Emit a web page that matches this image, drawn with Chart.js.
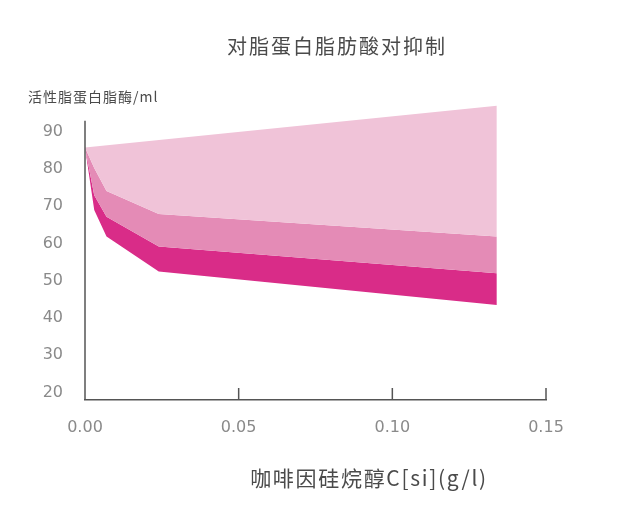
<!DOCTYPE html>
<html>
<head>
<meta charset="utf-8">
<script src="https://cdn.jsdelivr.net/npm/chart.js@4.4.1/dist/chart.umd.min.js"></script>
<style>
  html, body { margin: 0; padding: 0; background: #fff; }
  #wrap { width: 630px; height: 508px; }
</style>
</head>
<body>
<div id="wrap"><canvas id="chart" width="630" height="508"></canvas></div>
<script>
// 数据
const chartTitle = "对脂蛋白脂肪酸对抑制";
const yTitle = "活性脂蛋白脂酶/ml";
const xTitle = "咖啡因硅烷醇C[si](g/l)";

const xTicks = [0, 0.05, 0.10, 0.15];
const yTicks = [20, 30, 40, 50, 60, 70, 80, 90];

const topX = [0, 0.134];
const topY = [85.8, 97.0];

const concX = [0, 0.003, 0.007, 0.024, 0.134];
const lightBottom = [85.8, 80.3, 74.1, 67.9, 61.9];
const midBottom = [85.8, 73.0, 67.2, 59.2, 52.0];
const darkBottom = [85.8, 69.0, 61.9, 52.5, 43.5];

const toPoints = (xs, ys) => xs.map((x, i) => ({ x: x, y: ys[i] }));

const axisColor = "#555";
const tickColor = "#8a8a8a";
const textColor = "#4a4a4a";
const cjk = "'Noto Sans CJK SC', sans-serif";

// 轴线、刻度和文字
const decor = {
    id: "decor",
    afterDraw(chart) {
        const ctx = chart.ctx;
        const area = chart.chartArea;
        const xs = chart.scales.x;
        const ys = chart.scales.y;
        ctx.save();
        ctx.strokeStyle = axisColor;
        ctx.lineWidth = 1.5;
        // y轴线
        ctx.beginPath();
        ctx.moveTo(area.left, ys.getPixelForValue(93));
        ctx.lineTo(area.left, area.bottom);
        ctx.stroke();
        // x轴刻度（向上）
        xTicks.slice(1).forEach(v => {
            const px = xs.getPixelForValue(v);
            ctx.beginPath();
            ctx.moveTo(px, area.bottom);
            ctx.lineTo(px, area.bottom - 12);
            ctx.stroke();
        });
        ctx.fillStyle = textColor;
        ctx.textBaseline = "middle";
        ctx.textAlign = "center";
        ctx.letterSpacing = "2px";
        ctx.font = "20px " + cjk;
        ctx.fillText(chartTitle, 337, 46);
        ctx.letterSpacing = "1.7px";
        ctx.font = "21px " + cjk;
        ctx.fillText(xTitle, 369, 478);
        ctx.textAlign = "left";
        ctx.letterSpacing = "1px";
        ctx.font = "14px " + cjk;
        ctx.fillText(yTitle, 28, 97);
        ctx.restore();
    }
};

new Chart(document.getElementById("chart").getContext("2d"), {
    type: "line",
    data: {
        datasets: [
            { data: toPoints(topX, topY), backgroundColor: "#f0c3d8", fill: "+1" },
            { data: toPoints(concX, lightBottom), backgroundColor: "#e48bb6", fill: "+1" },
            { data: toPoints(concX, midBottom), backgroundColor: "#d92c88", fill: "+1" },
            { data: toPoints(concX, darkBottom), backgroundColor: "#d92c88", fill: false }
        ]
    },
    options: {
        responsive: false,
        animation: false,
        devicePixelRatio: 1,
        layout: { padding: { top: 102, right: 84, left: 0, bottom: 0 } },
        elements: {
            line: { borderWidth: 0, tension: 0 },
            point: { radius: 0 }
        },
        plugins: {
            legend: { display: false },
            title: { display: false },
            tooltip: { enabled: false }
        },
        scales: {
            x: {
                type: "linear",
                min: 0,
                max: 0.15,
                afterBuildTicks: s => { s.ticks = xTicks.map(v => ({ value: v })); },
                afterFit: s => { s.height = 108; },
                grid: { display: false, drawTicks: false },
                border: { display: true, color: axisColor, width: 1.5 },
                ticks: {
                    padding: 18,
                    color: tickColor,
                    font: { family: "'DejaVu Sans'", size: 16 },
                    maxRotation: 0,
                    callback: v => Number(v).toFixed(2)
                }
            },
            y: {
                min: 18,
                max: 98,
                afterBuildTicks: s => { s.ticks = yTicks.map(v => ({ value: v })); },
                afterFit: s => { s.width = 85; },
                grid: { display: false, drawTicks: false },
                border: { display: false },
                ticks: {
                    padding: 22,
                    color: tickColor,
                    font: { family: "'DejaVu Sans'", size: 16 }
                }
            }
        }
    },
    plugins: [decor]
});
</script>
</body>
</html>
